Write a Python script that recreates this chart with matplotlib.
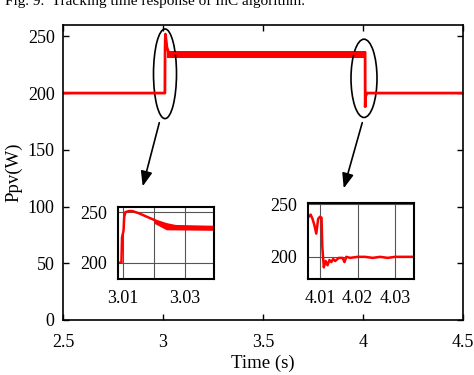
import numpy as np
import matplotlib.pyplot as plt
from matplotlib.patches import Ellipse

plt.rcParams["font.family"] = ["Liberation Serif", "DejaVu Serif"]

# main trace (time in s, power in W)
t_main = [2.5, 3.0095, 3.0105, 3.012, 3.02, 3.03, 4.0, 4.0105, 4.011, 4.013, 4.02, 4.5]
p_main = [200, 200, 240, 252, 240, 235, 235, 236, 188, 197, 200, 200]
# ripple band on the 235 W level
band_t = [3.02, 4.01]
band_lo = [231, 231]
band_hi = [237, 237]

# zoom 1: step up near 3.01 s
t_z1 = [3.0084, 3.0095, 3.0097, 3.0102, 3.0104, 3.0108, 3.012, 3.013, 3.015, 3.018,
        3.021, 3.024, 3.027, 3.030, 3.035, 3.0394]
p_z1 = [200, 200, 225, 232, 245, 250, 251, 251, 249, 245, 241, 238, 236, 235, 234.5, 234.5]
z1_band_t = [3.020, 3.024, 3.0394]
z1_band_lo = [239, 232.5, 232]
z1_band_hi = [242, 238, 237]

# zoom 2: step down near 4.01 s
t_z2 = [4.007, 4.0075, 4.008, 4.0085, 4.009, 4.0095, 4.010, 4.0104, 4.0106, 4.0108,
        4.011, 4.0115, 4.012, 4.0125, 4.013, 4.0135, 4.014, 4.015, 4.016, 4.0165,
        4.017, 4.018, 4.020, 4.022, 4.024, 4.026, 4.028, 4.030, 4.032, 4.035]
p_z2 = [238, 240, 236, 230, 222, 236, 238, 237, 210, 200, 190, 196, 192, 197, 195,
        198, 196, 199, 199, 195, 200, 199, 200, 200, 199, 200, 199, 200, 200, 200]

fig = plt.figure(figsize=(4.74, 3.75), dpi=100)
fig.text(0.01, 1 - 5 / 375, "Fig. 9.  Tracking time response of InC algorithm.",
         fontsize=11, va="baseline")

ax = fig.add_axes([63 / 474, 55 / 375, 400 / 474, 295 / 375])
ax.plot(t_main, p_main, color="#ff0000", lw=2)
ax.fill_between(band_t, band_lo, band_hi, color="#ff0000", lw=0)
ax.set_xlim(2.5, 4.5)
ax.set_ylim(0, 260)
ax.set_xticks([2.5, 3, 3.5, 4, 4.5])
ax.set_xticklabels(["2.5", "3", "3.5", "4", "4.5"])
ax.set_yticks([0, 50, 100, 150, 200, 250])
ax.tick_params(direction="in", top=True, right=True, length=4, labelsize=13, width=1)
ax.tick_params(axis="x", pad=10)
ax.tick_params(axis="y", pad=6)
for s in ax.spines.values():
    s.set_linewidth(1.2)
ax.set_xlabel("Time (s)", fontsize=13.5, labelpad=3)
ax.set_ylabel("Ppv(W)", fontsize=13.5, labelpad=4)

for cx, cy, w, h in [(3.01, 217, 0.115, 79), (4.005, 213, 0.13, 69)]:
    ax.add_patch(Ellipse((cx, cy), w, h, fill=False, color="black", lw=1.2, clip_on=False))

for (x0, y0), (x1, y1) in [((160, 120), (142, 189)), ((363, 120), (343, 191))]:
    ax.annotate("", xy=(x1, 375 - y1), xycoords="figure pixels",
                xytext=(x0, 375 - y0), textcoords="figure pixels",
                arrowprops=dict(arrowstyle="-|>,head_length=0.9,head_width=0.35",
                                color="black", lw=1.2))

ax1 = fig.add_axes([118 / 474, 96 / 375, 96 / 474, 72 / 375])
ax1.plot(t_z1, p_z1, color="#ff0000", lw=1.8)
ax1.fill_between(z1_band_t, z1_band_lo, z1_band_hi, color="#ff0000", lw=0)
ax1.set_xlim(3.0084, 3.0394)
ax1.set_ylim(184, 255)
ax1.set_xticks([3.01, 3.02, 3.03])
ax1.set_xticklabels(["3.01", "", "3.03"])
ax1.set_yticks([200, 250])

ax2 = fig.add_axes([308 / 474, 96 / 375, 106 / 474, 76 / 375])
ax2.plot(t_z2, p_z2, color="#ff0000", lw=1.8)
ax2.set_xlim(4.0068, 4.035)
ax2.set_ylim(179, 251)
ax2.set_xticks([4.01, 4.02, 4.03])
ax2.set_xticklabels(["4.01", "4.02", "4.03"])
ax2.set_yticks([200, 250])

for a in (ax1, ax2):
    a.grid(True, color="#555555", lw=0.8)
    a.set_axisbelow(True)
    a.tick_params(direction="in", length=0, labelsize=13, pad=8)
    for s in a.spines.values():
        s.set_linewidth(1.5)

fig.savefig("out.png", dpi=100)
